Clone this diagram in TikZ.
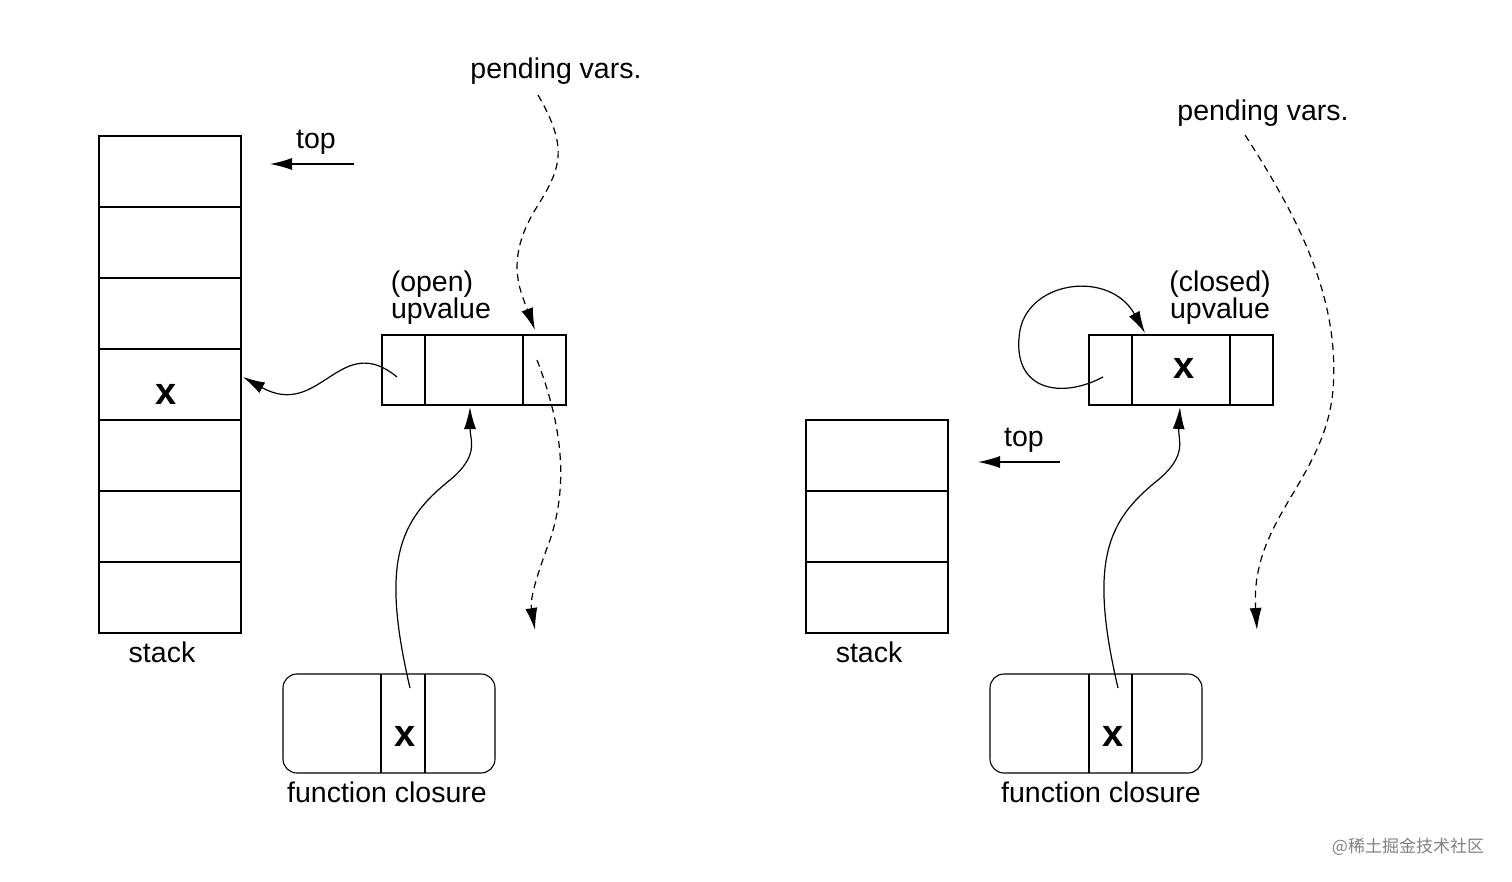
\documentclass[tikz,border=0pt]{standalone}
\usepackage{fontspec}
\setmainfont{Liberation Sans}
\newfontfamily\cjk{Noto Sans CJK SC}
\usetikzlibrary{arrows.meta}
\begin{document}
\begin{tikzpicture}[x=1pt,y=-1pt,
  box/.style={draw,line width=1.1pt},
  lbl/.style={font=\fontsize{28.5}{30}\selectfont,inner sep=0pt},
  xl/.style={font=\fontsize{38}{38}\selectfont\bfseries,inner sep=0pt},
  arr/.style={line width=1.2pt,-{Latex[length=22pt,width=12pt]}},
  darr/.style={arr,dash pattern=on 7pt off 5pt}]
\useasboundingbox (0,0) rectangle (1512,882);
% left stack
\foreach \i in {0,...,6}{\draw[box] (99,136+71*\i) rectangle (241,207+71*\i);}
\node[xl] (lx) at (166,394) {x};
\coordinate (lcell) at (243,377);
\node[lbl] (ltop) at (316,142) {top};
\coordinate (ltopS) at (354,164); \coordinate (ltopE) at (270,164);
\draw[arr] (ltopS) -- (ltopE);
\node[lbl] (lstack) at (162,652) {stack};
% left upvalue
\draw[box] (382,335) rectangle (566,405);
\draw[box] (425,335) -- (425,405); \draw[box] (523,335) -- (523,405);
\node[lbl] at (432,284) {(open)};
\node[lbl] at (441,311) {upvalue};
\coordinate (lup) at (397,377);
\draw[arr] (lup) .. controls (340,330) and (320,420) .. (lcell);
% left closure
\draw[box,rounded corners=14pt] (283,674) rectangle (495,773);
\draw[box] (381,674) -- (381,773); \draw[box] (425,674) -- (425,773);
\node[xl] at (405,736) {x};
\node[lbl] at (387,792) {function closure};
\coordinate (lcl) at (410,688); \coordinate (lupb) at (470,407);
\draw[arr] (lcl) .. controls (380,560) and (400,520) .. (450,480) .. controls (480,455) and (470,440) .. (lupb);
% left pending
\node[lbl] (lpv) at (556,71) {pending vars.};
\coordinate (lp0) at (538,95);
\draw[darr] (lp0) .. controls (570,150) and (560,170) .. (535,210) .. controls (505,260) and (520,290) .. (535,330);
\draw[darr] (537,360) .. controls (560,420) and (570,480) .. (550,540) .. controls (535,580) and (530,600) .. (535,630);
% right stack
\foreach \i in {0,...,2}{\draw[box] (806,420+71*\i) rectangle (948,491+71*\i);}
\node[lbl] (rtop) at (1024,440) {top};
\draw[arr] (1060,462) -- (978,462);
\node[lbl] (rstack) at (869,652) {stack};
% right upvalue
\draw[box] (1089,335) rectangle (1273,405);
\draw[box] (1132,335) -- (1132,405); \draw[box] (1230,335) -- (1230,405);
\node[xl] at (1184,368) {x};
\node[lbl] at (1220,284) {(closed)};
\node[lbl] at (1220,311) {upvalue};
\coordinate (rup) at (1103,377);
\draw[arr] (rup) .. controls (1060,400) and (1010,390) .. (1020,330) .. controls (1030,280) and (1110,270) .. (1145,333);
% right closure
\draw[box,rounded corners=14pt] (990,674) rectangle (1202,773);
\draw[box] (1089,674) -- (1089,773); \draw[box] (1132,674) -- (1132,773);
\node[xl] at (1113,736) {x};
\node[lbl] at (1101,792) {function closure};
\draw[arr] (1118,688) .. controls (1088,560) and (1108,520) .. (1158,480) .. controls (1188,455) and (1178,440) .. (1180,407);
% right pending
\node[lbl] (rpv) at (1263,113) {pending vars.};
\draw[darr] (1245,135) .. controls (1300,220) and (1340,300) .. (1333,390) .. controls (1325,480) and (1250,520) .. (1257,630);
% watermark
\node[font=\cjk\fontsize{17}{17}\selectfont,text=gray,inner sep=0pt] at (1408,847) {@稀土掘金技术社区};
\end{tikzpicture}
\end{document}
